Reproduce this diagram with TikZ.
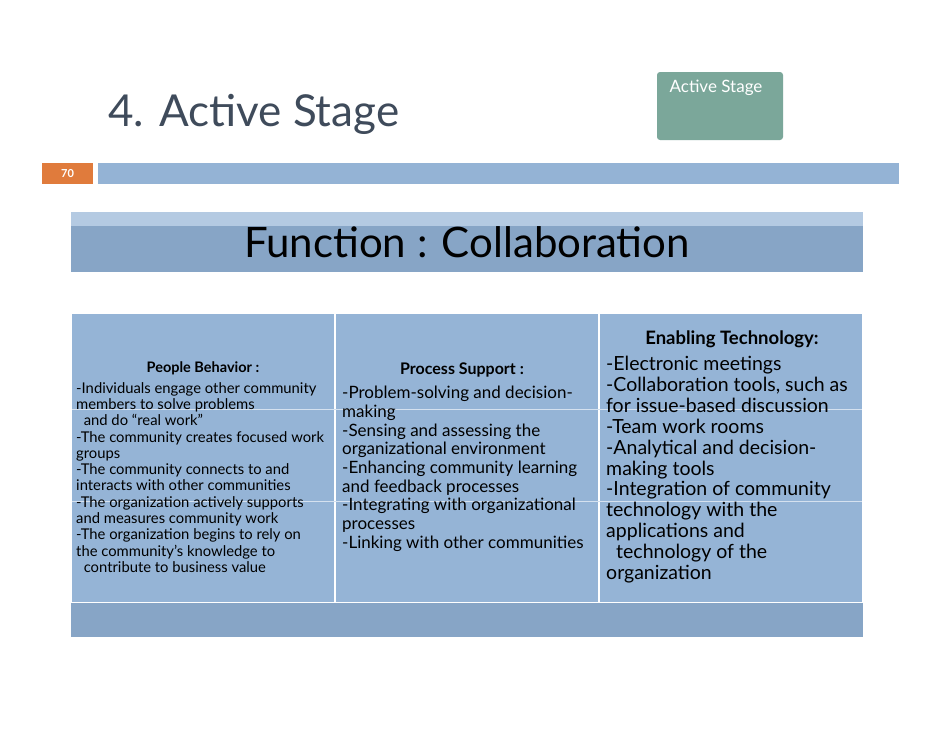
\documentclass[tikz,border=0pt]{standalone}
\usepackage{fontspec}
\setmainfont{Lato}
\begin{document}
\begin{tikzpicture}[x=1pt,y=-1pt,
  cell/.style={draw=white,line width=1.2pt,fill=cellblue},
  coltext/.style={anchor=north west,align=left,inner sep=0pt,text=black}]
\definecolor{cellblue}{HTML}{95B4D6}
\definecolor{barblue}{HTML}{94B3D5}
\definecolor{darkbar}{HTML}{87A5C6}
\definecolor{titlec}{HTML}{3F4B5B}
\definecolor{tealbox}{HTML}{7BA79A}
\definecolor{orangebox}{HTML}{E07B3C}
\useasboundingbox[fill=white] (0,0) rectangle (942,728);
\node[anchor=west,text=titlec,font=\fontsize{44}{50}\selectfont,inner sep=0pt] (title) at (108,114) {4. Active Stage};
\node[fill=tealbox,draw=none,rounded corners=3pt,minimum width=126pt,minimum height=68pt] (as) at (720,106) {};
\node[anchor=north,text=white,font=\fontsize{17}{20}\selectfont,inner sep=0pt] (astext) at (716,80) {Active Stage};
\node[fill=orangebox,minimum width=51pt,minimum height=21pt,inner sep=0pt,text=white,font=\bfseries\fontsize{11}{12}\selectfont] (num) at (67.5,173.5) {70};
\fill[barblue] (98,163) rectangle (899,184);
\node[fill=darkbar,minimum width=792pt,minimum height=60pt,inner sep=0pt] (func) at (467,242) {};
\fill[barblue!70!white] (71,212) rectangle (863,226);
\node[font=\fontsize{42}{48}\selectfont] (ftext) at (467,242) {Function : Collaboration};
\node[cell,minimum width=264pt,minimum height=290pt,inner sep=0pt] (c1) at (203,458) {};
\node[cell,minimum width=264pt,minimum height=290pt,inner sep=0pt] (c2) at (467,458) {};
\node[cell,minimum width=264pt,minimum height=290pt,inner sep=0pt] (c3) at (731,458) {};
\draw[white!60!cellblue,line width=0.5pt] (72,409) -- (862,409) (72,501) -- (862,501);
\node[fill=darkbar,minimum width=792pt,minimum height=34pt,inner sep=0pt] (bot) at (467,620) {};
\node[font=\bfseries\fontsize{14.5}{17}\selectfont] (h1) at (203,368) {People Behavior :};
\node[coltext,font=\fontsize{14.8}{16.3}\selectfont] (t1) at (76,382) {-Individuals engage other community\\members to solve problems\\\ \ and do “real work”\\-The community creates focused work\\groups\\-The community connects to and\\interacts with other communities\\-The organization actively supports\\and measures community work\\-The organization begins to rely on\\the community's knowledge to\\\ \ contribute to business value};
\node[font=\bfseries\fontsize{16}{19}\selectfont] (h2) at (462,370) {Process Support :};
\node[coltext,font=\fontsize{17}{18.7}\selectfont] (t2) at (342,386) {-Problem-solving and decision-\\making\\-Sensing and assessing the\\organizational environment\\-Enhancing community learning\\and feedback processes\\-Integrating with organizational\\processes\\-Linking with other communities};
\node[font=\bfseries\fontsize{18.5}{21}\selectfont] (h3) at (732,339) {Enabling Technology:};
\node[coltext,font=\fontsize{19.5}{20.9}\selectfont] (t3) at (606,356) {-Electronic meetings\\-Collaboration tools, such as\\for issue-based discussion\\-Team work rooms\\-Analytical and decision-\\making tools\\-Integration of community\\technology with the\\applications and\\\ \ technology of the\\organization};
\end{tikzpicture}
\end{document}
